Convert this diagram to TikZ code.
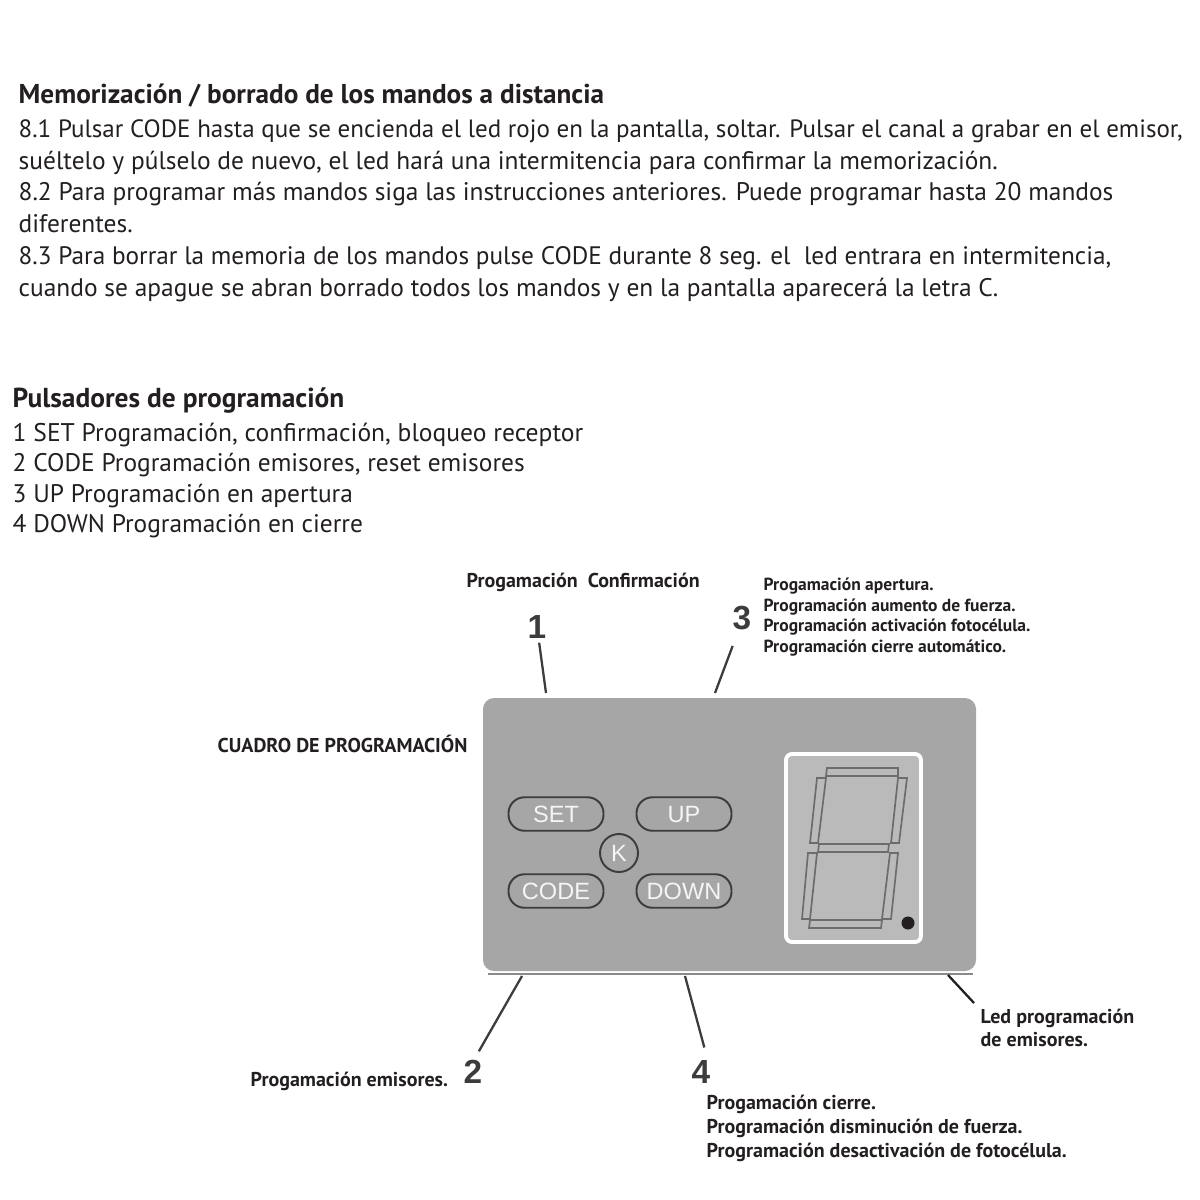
\documentclass[tikz,border=0pt]{standalone}
\usepackage{fontspec}
\setmainfont{PT Sans}
\newfontfamily\keyfont{Liberation Sans}
\usetikzlibrary{shapes.misc}
\definecolor{mypanel}{RGB}{166,166,166}
\definecolor{myscreen}{RGB}{186,186,186}
\definecolor{myline}{RGB}{60,60,60}
\definecolor{mysegment}{RGB}{108,108,108}
\definecolor{myink}{RGB}{35,31,32}
\tikzset{
  bodytext/.style={anchor=base west,inner sep=0pt,text=myink,font=\fontsize{7.23pt}{9pt}\selectfont},
  headtext/.style={bodytext,font=\fontsize{7.75pt}{9pt}\selectfont\bfseries},
  notetext/.style={anchor=base west,inner sep=0pt,text=myink,font=\fontsize{5.69pt}{7pt}\selectfont\bfseries},
  smalltext/.style={notetext,font=\fontsize{4.98pt}{7pt}\selectfont\bfseries},
  numlabel/.style={inner sep=1pt,text=myline,font=\fontsize{9.5pt}{10pt}\selectfont\keyfont\bfseries},
  keybox/.style={draw=myline,line width=0.55pt,rounded corners=1.6mm,minimum width=9.5mm,minimum height=3.35mm,inner sep=0pt,text height=1.7mm,text depth=0pt,text=white!96!black,font=\fontsize{6.7pt}{7pt}\selectfont\keyfont},
  leader/.style={draw=myline,line width=0.65pt},
  segment/.style={draw=mysegment,line width=0.48pt}
}
\begin{document}
\begin{tikzpicture}[x=0.1mm,y=-0.1mm]
\useasboundingbox (0,0) rectangle (1200,1200);
%Texte oben
\node[headtext] (head1) at (18,103.5) {Memorización / borrado de los mandos a distancia};
\node[bodytext,font=\fontsize{7.12pt}{9pt}\selectfont] (line1) at (18,137) {8.1 Pulsar CODE hasta que se encienda el led rojo en la pantalla, soltar. Pulsar el canal a grabar en el emisor,};
\node[bodytext] (line2) at (18,169) {suéltelo y púlselo de nuevo, el led hará una intermitencia para confirmar la memorización.};
\node[bodytext] (line3) at (18,200.3) {8.2 Para programar más mandos siga las instrucciones anteriores. Puede programar hasta 20 mandos};
\node[bodytext] (line4) at (18,232.3) {diferentes.};
\node[bodytext,font=\fontsize{7.19pt}{9pt}\selectfont] (line5) at (18,264.3) {8.3 Para borrar la memoria de los mandos pulse CODE durante 8 seg. el\ \ led entrara en intermitencia,};
\node[bodytext] (line6) at (18,296.3) {cuando se apague se abran borrado todos los mandos y en la pantalla aparecerá la letra C.};

%Liste
\node[headtext,font=\fontsize{7.8pt}{9pt}\selectfont\bfseries] (head2) at (12,407.5) {Pulsadores de programación};
\node[bodytext,font=\fontsize{7.27pt}{9pt}\selectfont] (list1) at (12,441) {1 SET Programación, confirmación, bloqueo receptor};
\node[bodytext] (list2) at (12,471) {2 CODE Programación emisores, reset emisores};
\node[bodytext] (list3) at (12,502) {3 UP Programación en apertura};
\node[bodytext] (list4) at (12,532) {4 DOWN Programación en cierre};

%Bedienfeld
\draw[line width=0.5pt,color=myline!60] (488,974) to (973,974);
\node[fill=mypanel,rounded corners=1.1mm,minimum width=49.3mm,minimum height=27.3mm,inner sep=0pt] (panel) at (729.5,834.5) {};
\node[keybox] (set) at (556,814) {SET};
\node[keybox] (up) at (684,814) {UP};
\node[keybox] (code) at (556,891) {CODE};
\node[keybox] (down) at (684,891) {DOWN};
\node[circle,draw=myline,line width=0.55pt,minimum size=3.8mm,inner sep=0pt,text=white!96!black,font=\fontsize{6.7pt}{7pt}\selectfont\keyfont] (k) at (619,853) {K};

%Anzeige
\node[draw=white,fill=myscreen,line width=1.1pt,rounded corners=0.6mm,minimum width=13.5mm,minimum height=18.8mm,inner sep=0pt] (screen) at (853.5,848) {};
\draw[segment] (827,768) to (898,768) to (898,776) to (826,776) to cycle;
\draw[segment] (817,778) to (826,778) to (818,843) to (810,843) to cycle;
\draw[segment] (898,778) to (907,778) to (899,843) to (891,843) to cycle;
\draw[segment] (819,844) to (889,844) to (888,852) to (818,852) to cycle;
\draw[segment] (808,853) to (817,853) to (810,919) to (802,919) to cycle;
\draw[segment] (890,853) to (898,853) to (891,919) to (882,919) to cycle;
\draw[segment] (810,920) to (882,920) to (881,928) to (809,928) to cycle;
\node[circle,fill=myink,minimum size=1.3mm,inner sep=0pt] (dot) at (908,923) {};

%Nummern
\node[numlabel] (num1) at (537,627) {1};
\node[numlabel] (num3) at (742,618) {3};
\node[numlabel] (num2) at (473,1072) {2};
\node[numlabel] (num4) at (701,1072) {4};

%Linien
\coordinate (top1) at (546,693);
\coordinate (top3) at (715,693);
\coordinate (bot2) at (522,976);
\coordinate (bot4) at (685,976);
\coordinate (led1) at (948,975);
\coordinate (led2) at (974,1003);
\draw[leader] (num1) to (top1);
\draw[leader,shorten <=3.6pt] (num3.-107) to (top3);
\draw[leader,shorten >=1.6pt] (bot2) to (num2.79);
\draw[leader,shorten >=2.6pt] (bot4) to (num4.70);
\draw[leader,color=myink] (led1) to (led2);

%Beschriftung
\node[notetext] (conf) at (466,587.5) {Progamación\ \ Confirmación};
\node[notetext] (cuadro) at (217,752) {CUADRO DE PROGRAMACIÓN};
\node[notetext] (emis) at (250,1086) {Progamación emisores.};
\node[smalltext] (open1) at (763,590) {Progamación apertura.};
\node[smalltext] (open2) at (763,611) {Programación aumento de fuerza.};
\node[smalltext] (open3) at (763,631) {Programación activación fotocélula.};
\node[smalltext] (open4) at (763,652) {Programación cierre automático.};
\node[notetext] (led3) at (980,1023.5) {Led programación};
\node[notetext] (led4) at (980,1046.5) {de emisores.};
\node[notetext] (close1) at (706,1109.5) {Progamación cierre.};
\node[notetext] (close2) at (706,1133.5) {Programación disminución de fuerza.};
\node[notetext] (close3) at (706,1157.5) {Programación desactivación de fotocélula.};
\end{tikzpicture}
\end{document}
